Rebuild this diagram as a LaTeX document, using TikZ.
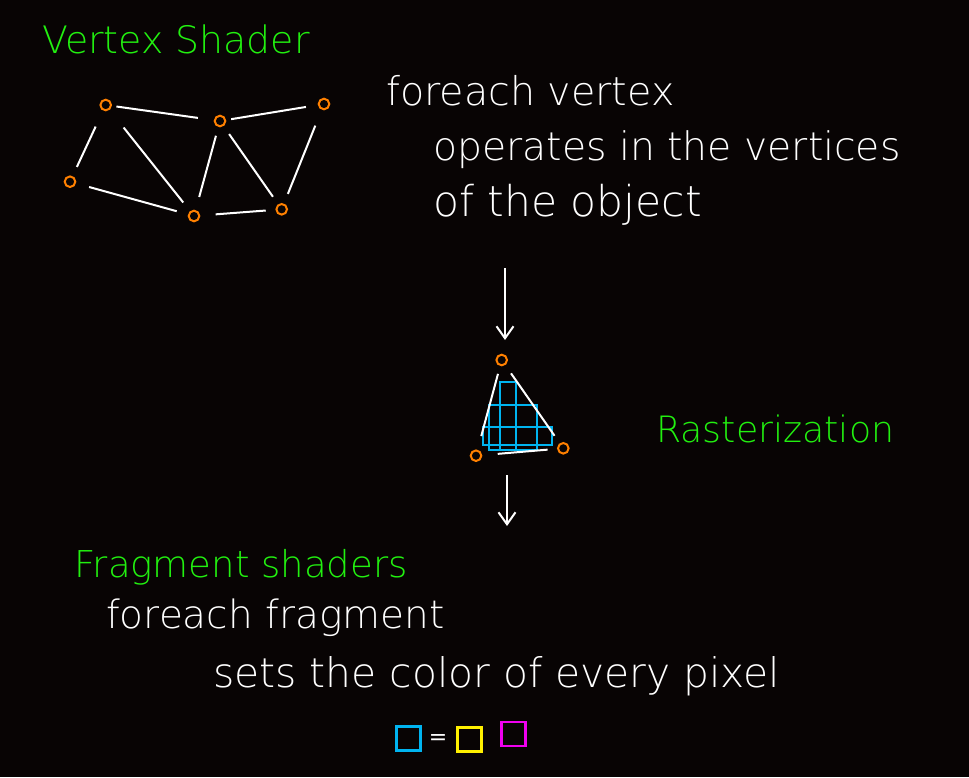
\documentclass[tikz,border=0pt]{standalone}
\usepackage{fontspec}
\IfFontExistsTF{DejaVu Sans ExtraLight}{\setmainfont{DejaVu Sans ExtraLight}}{\setmainfont{DejaVu Sans}}
\newfontfamily\eqfont{DejaVu Sans}
\usetikzlibrary{arrows.meta}
\definecolor{bgc}{HTML}{080404}
\definecolor{grn}{HTML}{22F010}
\definecolor{org}{HTML}{FF8000}
\definecolor{cyn}{HTML}{00B4F0}
\definecolor{ylw}{HTML}{FFF000}
\definecolor{mgt}{HTML}{F000F0}
\tikzset{
  vtx/.style={circle, draw=org, line width=2pt, minimum size=10.6pt, inner sep=0pt},
  edge/.style={draw=white, line width=2pt},
  wtext/.style={text=white, anchor=base west, inner sep=0pt, font=\fontsize{#1}{#1}\selectfont},
  wtext/.default=39,
  gtext/.style={text=grn, anchor=base west, inner sep=0pt, font=\fontsize{#1}{#1}\selectfont},
  gtext/.default=36,
  flow/.style={draw=white, line width=2pt, -{Straight Barb[length=12pt,width=17pt,line width=2pt]}},
  cell/.style={draw=cyn, line width=2.2pt},
  swatch/.style={line width=2.5pt, minimum size=24pt, inner sep=0pt, rectangle}
}
\begin{document}
\begin{tikzpicture}[x=1pt,y=-1pt]
\fill[bgc] (0,0) rectangle (969,777);
\useasboundingbox (0,0) rectangle (969,777);

% texts
\node[gtext=37.8] (vs) at (42,53) {Vertex Shader};
\node[wtext=39.6] (t1) at (386,105) {foreach vertex};
\node[wtext=39.3] (t2) at (433,160) {operates in the vertices};
\node[wtext=42.5] (t3) at (433,216) {of the object};
\node[gtext=36.3] (ras) at (656,442) {Rasterization};
\node[gtext=37] (fs) at (74,577) {Fragment shaders};
\node[wtext=39] (t4) at (106,628) {foreach fragment};
\node[wtext=40.8] (t5) at (213,687) {sets the color of every pixel};

% mesh
\node[vtx] (A) at (105.7,105) {};
\node[vtx] (B) at (220,121) {};
\node[vtx] (C) at (324,104) {};
\node[vtx] (D) at (70,181.7) {};
\node[vtx] (E) at (194,216) {};
\node[vtx] (F) at (281.7,209.3) {};
\draw[edge, shorten <=4.5pt, shorten >=16pt] (A) -- (B);
\draw[edge, shorten <=5pt, shorten >=12pt] (B) -- (C);
\draw[edge, shorten <=17.5pt, shorten >=10pt] (A) -- (D);
\draw[edge, shorten <=22.5pt, shorten >=11pt] (A) -- (E);
\draw[edge, shorten <=9pt, shorten >=13.4pt] (B) -- (E);
\draw[edge, shorten <=9.6pt, shorten >=9pt] (B) -- (F);
\draw[edge, shorten <=17pt, shorten >=10.3pt] (C) -- (F);
\draw[edge, shorten <=13.5pt, shorten >=11.6pt] (D) -- (E);
\draw[edge, shorten <=15.4pt, shorten >=9.7pt] (E) -- (F);

% arrows
\coordinate (a1s) at (505,268);
\coordinate (a1e) at (505,340);
\coordinate (a2s) at (507,475);
\coordinate (a2e) at (507,526);
\draw[flow] (a1s) -- (a1e);
\draw[flow] (a2s) -- (a2e);

% rasterization
\draw[cell] (500,382.3) rectangle (515.7,450);
\draw[cell] (489,405) rectangle (537.3,450);
\draw[cell] (483.3,426.7) rectangle (551.7,445);
\node[vtx] (T) at (501.7,360) {};
\node[vtx] (L) at (476,455.7) {};
\node[vtx] (R) at (563.3,448.3) {};
\draw[edge, shorten <=8pt, shorten >=14pt] (T) -- (L);
\draw[edge, shorten <=10pt, shorten >=9pt] (T) -- (R);
\draw[edge, shorten <=15.5pt, shorten >=9.5pt] (L) -- (R);

% swatches
\node[swatch, draw=cyn] (sq1) at (408.3,738.3) {};
\node[text=white, inner sep=0pt, font=\eqfont\fontsize{22}{24}\selectfont] (eq) at (438,739) {=};
\node[swatch, draw=ylw] (sq2) at (469.7,739.7) {};
\node[swatch, draw=mgt] (sq3) at (513.7,733.8) {};
\end{tikzpicture}
\end{document}
